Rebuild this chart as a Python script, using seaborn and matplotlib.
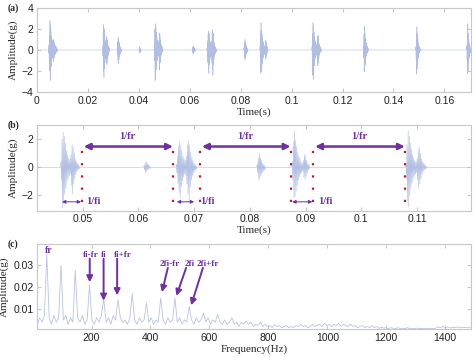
import numpy as np
import pandas as pd
import seaborn as sns
import matplotlib.pyplot as plt

# ---- data ----
dt = 1e-4  # sample interval of the time signal [s]

burst_t0 = [0.0045, 0.0258, 0.0315, 0.0401, 0.0461, 0.0610, 0.0668,
            0.0813, 0.0876, 0.1080, 0.1282, 0.1488, 0.1688]

burst_vals = [
    [0.2, -0.3, 0.5, -0.8, 1.4, -2.0, 2.8, -2.9, 2.4, -2.2, 1.8, -1.6, 1.3, -1.2, 1.0, -0.8, 0.7, -0.6,
     0.9, -1.1, 1.0, -0.9, 0.8, -0.7, 0.6, -0.5, 0.5, -0.4, 0.3, -0.3, 0.3, -0.2, 0.2, -0.2, 0.1, -0.1],
    [0.3, -0.6, 1.5, -2.0, 2.4, -2.6, 2.0, -1.8, 1.4, -1.2, 0.9, -0.8, 0.7, -0.6, 1.0, -1.2, 1.3, -1.4,
     1.0, -0.9, 0.7, -0.6, 0.4, -0.4, 0.3, -0.2, 0.2, -0.1],
    [0.2, -0.4, 0.8, -1.0, 1.2, -1.3, 1.0, -0.9, 0.7, -0.6, 0.5, -0.4, 0.3, -0.3, 0.2, -0.2, 0.1, -0.1],
    [0.1, -0.2, 0.3, -0.3, 0.2, -0.2, 0.1, -0.1],
    [0.4, -1.0, 2.0, -2.9, 2.5, -2.6, 2.2, -1.9, 1.7, -1.5, 1.2, -1.0, 0.9, -0.8, 0.7, -0.6, 0.6, -0.5,
     0.9, -1.3, 1.6, -1.9, 1.4, -1.2, 1.0, -0.8, 0.6, -0.5, 0.4, -0.3, 0.3, -0.2, 0.2, -0.1],
    [0.1, -0.2, 0.3, -0.4, 0.4, -0.3, 0.3, -0.2, 0.2, -0.1, 0.1, -0.1],
    [0.2, -0.4, 0.8, -1.2, 1.5, -1.8, 1.8, -2.2, 1.6, -1.4, 1.2, -1.0, 0.8, -0.7, 0.6, -0.5, 0.5, -0.6,
     0.8, -1.2, 1.6, -1.9, 1.9, -2.4, 1.6, -1.4, 1.1, -0.9, 0.7, -0.6, 0.5, -0.4, 0.3, -0.3, 0.2, -0.2,
     0.1, -0.1],
    [0.2, -0.4, 0.7, -0.9, 1.0, -0.8, 0.7, -0.6, 0.5, -0.4, 0.3, -0.3, 0.2, -0.2, 0.1, -0.1],
    [0.4, -0.9, 1.8, -2.2, 2.6, -2.1, 1.9, -1.7, 1.5, -1.3, 1.1, -0.9, 0.8, -0.7, 0.6, -0.5, 0.4, -0.4,
     0.3, -0.3, 0.5, -0.7, 0.9, -0.9, 0.8, -0.6, 0.5, -0.4, 0.3, -0.2, 0.2, -0.1],
    [0.3, -0.8, 1.6, -2.4, 2.6, -2.8, 2.2, -2.0, 1.7, -1.5, 1.3, -1.1, 0.9, -0.8, 0.7, -0.6, 0.5, -0.5,
     0.4, -0.4, 0.6, -0.9, 1.3, -1.5, 1.4, -1.2, 1.0, -0.8, 0.6, -0.5, 0.4, -0.3, 0.3, -0.2, 0.2, -0.1,
     0.1, -0.1],
    [0.3, -0.7, 1.5, -2.1, 2.3, -1.9, 1.6, -1.4, 1.1, -0.9, 0.7, -0.6, 0.6, -0.5, 0.4, -0.3, 0.3, -0.2,
     0.2, -0.1],
    [0.3, -0.8, 1.6, -2.3, 2.2, -1.8, 1.5, -1.2, 1.0, -0.8, 0.6, -0.5, 0.4, -0.3, 0.3, -0.2, 0.2, -0.1],
    [0.4, -0.9, 1.7, -2.3, 2.5, -2.0, 1.6, -1.3, 1.0, -0.8, 0.6, -0.5, 0.4, -0.3, 0.2, -0.2],
]

# impact onsets marked in (b) and the spans of the arrows
mark_t = [0.0499, 0.0662, 0.0711, 0.0873, 0.0914, 0.1078]
fr_spans = [(0.0499, 0.0662), (0.0711, 0.0873), (0.0914, 0.1078)]
fi_spans = [(0.0463, 0.0497), (0.0669, 0.0700), (0.0876, 0.0912)]

# spectrum: bins of 8.05 Hz starting at 16.1 Hz
df = 8.05
spec_low = [0.003, 0.006, 0.004, 0.007,
            0.035, 0.006, 0.003, 0.007, 0.004, 0.006,
            0.030, 0.005, 0.007, 0.003, 0.006, 0.004,
            0.0277, 0.006, 0.004, 0.007, 0.003, 0.005,
            0.021, 0.005, 0.003, 0.006, 0.004, 0.007,
            0.0148, 0.004, 0.006, 0.003, 0.007, 0.005,
            0.0143, 0.006, 0.004, 0.005, 0.003, 0.006,
            0.0171, 0.005, 0.003, 0.006, 0.004, 0.005,
            0.0128, 0.004, 0.006, 0.003, 0.005, 0.004,
            0.0150, 0.005, 0.003, 0.006, 0.004, 0.005,
            0.0150, 0.004, 0.006, 0.003, 0.005, 0.004,
            0.0112, 0.005, 0.003, 0.006, 0.004, 0.005,
            0.0082, 0.004, 0.006, 0.003, 0.005, 0.004,
            0.0075, 0.004, 0.003, 0.005, 0.003, 0.004,
            0.0060, 0.003, 0.004, 0.002, 0.004, 0.003]
spec_high = [0.0045, 0.003, 0.004, 0.002, 0.003, 0.0025, 0.004, 0.002, 0.003, 0.002,
             0.0025, 0.0015, 0.003, 0.002, 0.0025, 0.0015, 0.002, 0.0025, 0.0015, 0.002,
             0.0015, 0.0025, 0.002, 0.003, 0.002, 0.0025, 0.0015, 0.002, 0.003, 0.002,
             0.0025, 0.003, 0.002, 0.0035, 0.0025, 0.003, 0.002, 0.003, 0.0025, 0.0035,
             0.002, 0.003, 0.0025, 0.002, 0.003, 0.002, 0.0025, 0.0015, 0.002, 0.0025,
             0.0015, 0.002, 0.0015, 0.0025, 0.0015, 0.002, 0.0012, 0.0018, 0.0012, 0.0015,
             0.001, 0.0015, 0.0012, 0.001, 0.0015, 0.001, 0.0012, 0.001, 0.0015, 0.001,
             0.0012, 0.001, 0.0013, 0.001, 0.0012, 0.001, 0.0011, 0.001, 0.0012, 0.001,
             0.0013, 0.0018, 0.0015, 0.002, 0.0015, 0.0018, 0.0013, 0.0017, 0.0015, 0.0018,
             0.0014, 0.0017, 0.0015, 0.0016, 0.0014, 0.0016]

# spectrum labels: (text, text x, text y, arrow start x, arrow start y, tip x, tip y)
harm_labels = [
    ("fi-fr", 196, 0.0346, 194, 0.0330, 194, 0.0222),
    ("fi", 242, 0.0346, 241, 0.0330, 241, 0.0138),
    ("fi+fr", 305, 0.0346, 287, 0.0330, 287, 0.0163),
    ("2fi-fr", 466, 0.0304, 459, 0.0288, 439, 0.0177),
    ("2fi", 533, 0.0304, 521, 0.0288, 488, 0.0160),
    ("2fi+fr", 596, 0.0304, 578, 0.0288, 538, 0.0117),
]

# ---- build series ----
n = 1720
sig = np.zeros(n)
for t0, vals in zip(burst_t0, burst_vals):
    i0 = int(round(t0 / dt))
    sig[i0:i0 + len(vals)] = vals
signal = pd.DataFrame({"t": np.arange(n) * dt, "amp": sig})

spec_vals = spec_low + spec_high
spectrum = pd.DataFrame({"f": (np.arange(len(spec_vals)) + 2) * df, "amp": spec_vals})

# ---- style ----
sns.set_style("ticks")
plt.rcParams.update({
    "axes.edgecolor": "#c8c8c8", "axes.linewidth": 0.8,
    "xtick.direction": "in", "ytick.direction": "in",
    "xtick.color": "#c8c8c8", "ytick.color": "#c8c8c8",
    "xtick.labelcolor": "#222222", "ytick.labelcolor": "#222222",
    "xtick.major.size": 3, "ytick.major.size": 3,
    "xtick.top": True, "ytick.right": True,
    "xtick.labelsize": 7.5, "ytick.labelsize": 7.5,
    "xtick.major.pad": 2.5, "ytick.major.pad": 2.5,
})
plt.rcParams["font.family"] = ["Liberation Sans", "DejaVu Sans"]

line_c = "#b1bee2"
purple = "#7030a0"
dot_c = "#c0182a"
serif = "Liberation Serif"

fig = plt.figure(figsize=(4.74, 3.57), dpi=100)
ax_a = fig.add_axes([0.078, 0.742, 0.916, 0.236])
ax_b = fig.add_axes([0.078, 0.409, 0.916, 0.241])
ax_c = fig.add_axes([0.078, 0.078, 0.916, 0.238])

for ax in (ax_a, ax_b):
    sns.lineplot(data=signal, x="t", y="amp", ax=ax, color=line_c, linewidth=0.4,
                 estimator=None, sort=False)
    ax.set_xlabel("Time(s)", family=serif, fontsize=8, labelpad=1)
    ax.set_ylabel("Amplitude(g)", family=serif, fontsize=8, labelpad=3)

ax_a.set_xlim(0, 0.1705)
ax_a.set_ylim(-4, 4)
ax_a.set_xticks([0, 0.02, 0.04, 0.06, 0.08, 0.1, 0.12, 0.14, 0.16])
ax_a.set_xticklabels(["0", "0.02", "0.04", "0.06", "0.08", "0.1", "0.12", "0.14", "0.16"])
ax_a.set_yticks([-4, -2, 0, 2, 4])

ax_b.set_xlim(0.0418, 0.1197)
ax_b.set_ylim(-3.1, 3.0)
ax_b.set_xticks([0.05, 0.06, 0.07, 0.08, 0.09, 0.1, 0.11])
ax_b.set_xticklabels(["0.05", "0.06", "0.07", "0.08", "0.09", "0.1", "0.11"])
ax_b.set_yticks([-2, 0, 2])

ax_b.vlines(mark_t, -2.45, 1.45, colors=dot_c, linestyles=(0, (1, 4.5)), linewidth=1.6)
for x0, x1 in fr_spans:
    ax_b.annotate("", xy=(x1, 1.47), xytext=(x0 + 0.0003, 1.47),
                  arrowprops=dict(arrowstyle="<|-|>", color=purple, lw=1.8, mutation_scale=9,
                                  shrinkA=0, shrinkB=0))
    ax_b.text((x0 + x1) / 2, 1.85, "1/fr", color=purple, family=serif, fontweight="bold",
              fontsize=7.5, ha="center", va="bottom")
for x0, x1 in fi_spans:
    ax_b.annotate("", xy=(x1, -2.45), xytext=(x0, -2.45),
                  arrowprops=dict(arrowstyle="<|-|>", color=purple, lw=0.7, mutation_scale=5,
                                  shrinkA=0, shrinkB=0))
    ax_b.text(x1 + 0.0010, -2.45, "1/fi", color=purple, family=serif, fontweight="bold",
              fontsize=7.5, ha="left", va="center")

sns.lineplot(data=spectrum, x="f", y="amp", ax=ax_c, color="#b9c4e2", linewidth=0.6,
             estimator=None, sort=False)
ax_c.set_xlim(15, 1488)
ax_c.set_ylim(0.0008, 0.0396)
ax_c.set_xticks([200, 400, 600, 800, 1000, 1200, 1400])
ax_c.set_yticks([0.01, 0.02, 0.03])
ax_c.set_yticklabels(["0.01", "0.02", "0.03"])
ax_c.set_xlabel("Frequency(Hz)", family=serif, fontsize=8, labelpad=1)
ax_c.set_ylabel("Amplitude(g)", family=serif, fontsize=8, labelpad=3)

ax_c.text(54, 0.0366, "fr", color=purple, family=serif, fontweight="bold", fontsize=7,
          ha="center", va="center")
for txt, tx, ty, ax0, ay0, ax1, ay1 in harm_labels:
    ax_c.text(tx, ty, txt, color=purple, family=serif, fontweight="bold", fontsize=6.5,
              ha="center", va="center")
    ax_c.annotate("", xy=(ax1, ay1), xytext=(ax0, ay0),
                  arrowprops=dict(arrowstyle="-|>", color=purple, lw=1.4, mutation_scale=9,
                                  shrinkA=0, shrinkB=0))

for ax, lab in ((ax_a, "(a)"), (ax_b, "(b)"), (ax_c, "(c)")):
    ax.text(-0.055, 1.0, lab, transform=ax.transAxes, family=serif, fontweight="bold",
            fontsize=7, ha="center", va="center")
    for s in ax.spines.values():
        s.set_visible(True)

fig.savefig("out.png", dpi=100)
